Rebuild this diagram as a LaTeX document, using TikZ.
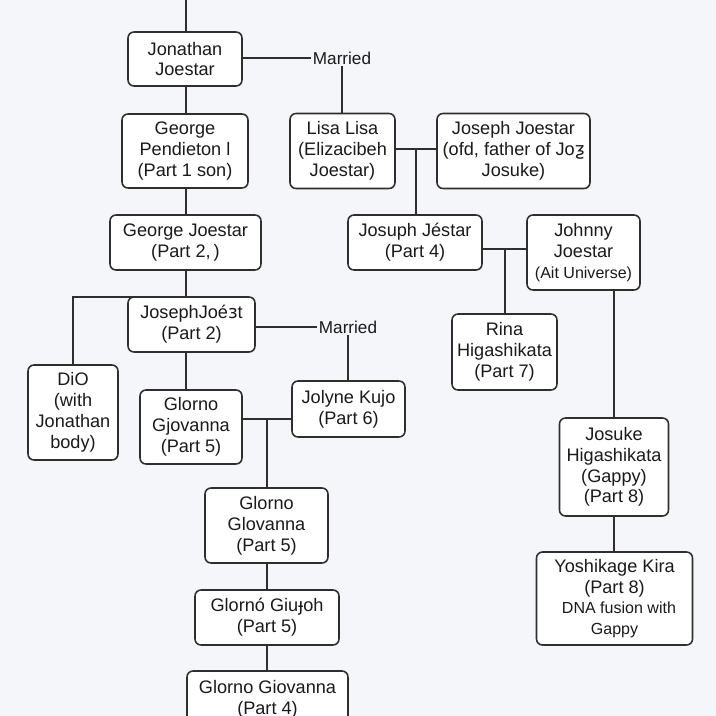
\documentclass[tikz,border=0pt]{standalone}
\usepackage{fontspec}
\setmainfont{Liberation Sans}
\newfontfamily\symfont{DejaVu Sans}
\newdimen\px
\px=0.025cm
\definecolor{bgc}{HTML}{F5F6FA}
\definecolor{linec}{HTML}{2E2E2E}
\definecolor{txtc}{HTML}{1A1A1A}
\tikzset{
  person/.style={draw=linec, line width=1.1pt, rounded corners=6\px, fill=white,
    align=center, inner sep=0pt, text=txtc,
    font=\fontsize{12.9}{14.8}\selectfont,
    execute at begin node={\rule{0pt}{15.5pt}}},
  lbl/.style={inner sep=1pt, text=txtc, font=\fontsize{12.2}{14}\selectfont},
  conn/.style={draw=linec, line width=1.1pt}
}
\newcommand{\sm}{\fontsize{11.4}{14.8}\selectfont}
\begin{document}
\begin{tikzpicture}[x=0.025cm, y=-0.025cm]
\useasboundingbox[fill=bgc] (0,0) rectangle (716,716);
% nodes
\node[person, minimum width=114\px, minimum height=54\px] (jon) at (185,59) {Jonathan\\Joestar};
\node[lbl] (m1) at (342,58) {Married};
\node[person, minimum width=126\px, minimum height=74\px] (gp) at (185,151) {George\\Pendieton l\\(Part 1 son)};
\node[person, minimum width=105\px, minimum height=75\px] (lisa) at (342.5,151) {Lisa Lisa\\(Elizacibeh\\Joestar)};
\node[person, minimum width=153\px, minimum height=75\px] (jos) at (513.5,151) {Joseph Joestar\\(ofd, father of Jo{\symfont ƺ}\\Josuke)};
\node[person, minimum width=151\px, minimum height=55\px] (gj) at (185.5,242.5) {George Joestar\\(Part 2,\,)};
\node[person, minimum width=134\px, minimum height=55\px] (josuph) at (415,242.5) {Josuph Jéstar\\(Part 4)};
\node[person, minimum width=113\px, minimum height=75\px] (johnny) at (583.5,252.5) {Johnny\\Joestar\\{\sm(Ait Universe)}};
\node[person, minimum width=105\px, minimum height=76\px] (rina) at (504.5,352) {Rina\\Higashikata\\(Part 7)};
\node[person, minimum width=127\px, minimum height=55\px] (jj) at (191.5,324.5) {JosephJoé{\symfont ɜ}t\\(Part 2)};
\node[lbl] (m2) at (348,327) {Married};
\node[person, minimum width=90\px, minimum height=95\px] (dio) at (73,412.5) {DiO\\(with\\Jonathan\\body)};
\node[person, minimum width=102\px, minimum height=74\px] (g1) at (191,427) {Glorno\\Gjovanna\\(Part 5)};
\node[person, minimum width=113\px, minimum height=56\px] (jolyne) at (348.5,409) {Jolyne Kujo\\(Part 6)};
\node[person, minimum width=123\px, minimum height=75\px] (g2) at (266.5,525.5) {Glorno\\Glovanna\\(Part 5)};
\node[person, minimum width=144\px, minimum height=55\px] (g3) at (267,617.5) {Glornó Giu{\symfont ɟ}oh\\(Part 5)};
\node[person, minimum width=161\px, minimum height=56\px] (g4) at (267.5,699) {Glorno Giovanna\\(Part 4)};
\node[person, minimum width=109\px, minimum height=98\px] (josuke) at (614,467) {Josuke\\Higashikata\\(Gappy)\\(Part 8)};
\node[person, minimum width=156\px, minimum height=93\px] (kira) at (614.5,598.5) {Yoshikage Kira\\(Part 8)\\{\sm\ \ DNA fusion with}\\{\sm Gappy}};
% coordinates
\coordinate (top) at (186,0);
\coordinate (j1) at (416,149);
\coordinate (j2) at (505,249);
\coordinate (j3) at (267,419);
\coordinate (jtop) at (186,297);
% connectors
\draw[conn] (top) -- (top |- jon.north);
\draw[conn] (jon.east |- m1.west) -- (m1.west);
\draw[conn] (m1.south) -- (m1.south |- lisa.north);
\draw[conn] (top |- jon.south) -- (top |- gp.north);
\draw[conn] (lisa.east |- j1) -- (jos.west |- j1);
\draw[conn] (j1) -- (j1 |- josuph.north);
\draw[conn] (top |- gp.south) -- (top |- gj.north);
\draw[conn] (josuph.east |- j2) -- (johnny.west |- j2);
\draw[conn] (j2) -- (j2 |- rina.north);
\draw[conn] (top |- gj.south) -- (jtop);
\draw[conn] (jtop) -- (dio.north |- jtop) -- (dio.north);
\draw[conn] (jj.east |- m2.west) -- (m2.west);
\draw[conn] (m2.south) -- (m2.south |- jolyne.north);
\draw[conn] (top |- jj.south) -- (top |- g1.north);
\draw[conn] (g1.east |- j3) -- (jolyne.west |- j3);
\draw[conn] (j3) -- (j3 |- g2.north);
\draw[conn] (j3 |- g2.south) -- (j3 |- g3.north);
\draw[conn] (j3 |- g3.south) -- (j3 |- g4.north);
\draw[conn] (josuke.north |- johnny.south) -- (josuke.north);
\draw[conn] (josuke.south) -- (josuke.south |- kira.north);
\end{tikzpicture}
\end{document}
